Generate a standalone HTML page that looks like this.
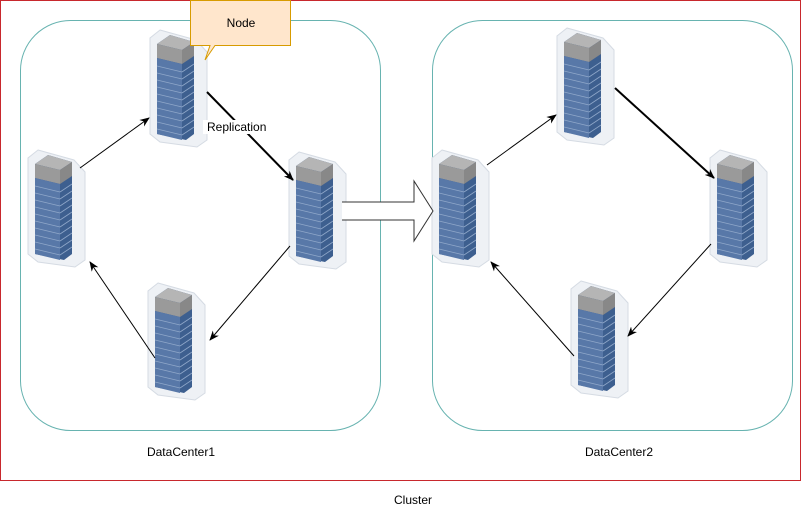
<!DOCTYPE html>
<html><head><meta charset="utf-8"><style>
html,body{margin:0;padding:0;background:#fff;}
svg{display:block;}
text{font-family:"Liberation Sans",sans-serif;font-size:12px;fill:#000;}
</style></head><body>
<svg width="801" height="511" viewBox="0 0 801 511" xmlns="http://www.w3.org/2000/svg">
<defs>
<marker id="ah" markerWidth="10" markerHeight="10" refX="9" refY="5" orient="auto" markerUnits="userSpaceOnUse">
<path d="M0,1 L10,5 L0,9 L3,5 Z" fill="#000"/></marker>
<g id="srv">
<path d="M10,0 L46,10 L57,22 L57,110 L47,117 L10,112 L0,104 L0,8 Z" fill="#eef1f5" stroke="#d5dbe3" stroke-width="1"/>
<path d="M7,14 L20,5 L44,12 L44,104 L36,110 L7,104 Z" fill="#3d5f8f"/>
<path d="M7,14 L20,5 L44,12 L32,20 Z" fill="#b5b5b5"/>
<path d="M7,14 L32,20 L32,34 L7,28 Z" fill="#9a9a9a"/>
<path d="M32,20 L44,12 L44,26 L32,34 Z" fill="#888"/>
<path d="M7,28 L32,34 L32,110 L7,104 Z" fill="#5878a8"/>
<g stroke="#8fa7c9" stroke-width="0.8">
<path d="M7,36 L32,42 M7,43 L32,49 M7,50 L32,56 M7,57 L32,63 M7,64 L32,70 M7,71 L32,77 M7,78 L32,84 M7,85 L32,91 M7,92 L32,98 M7,99 L32,105"/>
<path d="M32,42 L44,34 M32,49 L44,41 M32,56 L44,48 M32,63 L44,55 M32,70 L44,62 M32,77 L44,69 M32,84 L44,76 M32,91 L44,83 M32,98 L44,90 M32,105 L44,97"/>
</g>
</g>
</defs>
<rect x="0.5" y="0.5" width="800" height="480" fill="#fff" stroke="#c8282d" stroke-width="1"/>
<rect x="20.5" y="20.5" width="360" height="410" rx="50" fill="none" stroke="#67b3b0" stroke-width="1"/>
<rect x="432.5" y="20.5" width="360" height="410" rx="50" fill="none" stroke="#67b3b0" stroke-width="1"/>

<use href="#srv" x="150" y="30"/>
<use href="#srv" x="28" y="150"/>
<use href="#srv" x="289" y="152"/>
<use href="#srv" x="148" y="283"/>
<use href="#srv" x="557" y="28"/>
<use href="#srv" x="432" y="150"/>
<use href="#srv" x="710" y="150"/>
<use href="#srv" x="571" y="281"/>

<g stroke="#000" fill="none">
<line x1="80" y1="168" x2="149" y2="118" marker-end="url(#ah)"/>
<line x1="207" y1="92" x2="293" y2="180" stroke-width="2" marker-end="url(#ah)"/>
<line x1="290" y1="246" x2="210" y2="340" marker-end="url(#ah)"/>
<line x1="155" y1="358" x2="90" y2="262" marker-end="url(#ah)"/>
<line x1="487" y1="165" x2="556" y2="115" marker-end="url(#ah)"/>
<line x1="615" y1="88" x2="714" y2="178" stroke-width="2" marker-end="url(#ah)"/>
<line x1="711" y1="244" x2="628" y2="336" marker-end="url(#ah)"/>
<line x1="574" y1="356" x2="491" y2="262" marker-end="url(#ah)"/>
</g>
<rect x="203" y="120" width="66" height="14" fill="#fff"/>
<text x="207" y="131">Replication</text>

<path d="M342,202 L414,202 L414,181 L433,211 L414,241 L414,220 L342,220" fill="#fff" stroke="#333" stroke-width="1"/>

<path d="M190.5,0.5 L290.5,0.5 L290.5,45.5 L215,45.5 L205,60 L210,45.5 L190.5,45.5 Z" fill="#ffe6cc" stroke="#d79b00" stroke-width="1"/>
<text x="241" y="27" text-anchor="middle">Node</text>

<text x="181" y="456" text-anchor="middle">DataCenter1</text>
<text x="619" y="456" text-anchor="middle">DataCenter2</text>
<text x="413" y="504" text-anchor="middle">Cluster</text>
</svg>
</body></html>
